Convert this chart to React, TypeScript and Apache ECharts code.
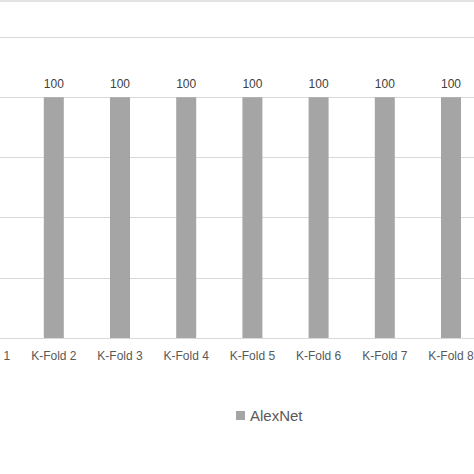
import React, { useEffect, useRef } from "react";
import * as echarts from "echarts";

const categories = ["K-Fold 1", "K-Fold 2", "K-Fold 3", "K-Fold 4", "K-Fold 5", "K-Fold 6", "K-Fold 7", "K-Fold 8"];
const alexnet = [100, 100, 100, 100, 100, 100, 100, 100];
const seriesName = "AlexNet";

const SHIFT = 46;

export default function App() {
  const ref = useRef<HTMLDivElement>(null);
  useEffect(() => {
    if (!ref.current) return;
    const chart = echarts.init(ref.current, null, { renderer: "svg" });
    const font = "'Liberation Sans', 'DejaVu Sans', sans-serif";
    chart.setOption({
      animation: false,
      backgroundColor: "#ffffff",
      textStyle: { fontFamily: font },
      grid: { left: 0.5, width: 529.6, top: 37, height: 301, containLabel: false },
      legend: {
        data: [seriesName],
        left: 231 + SHIFT,
        top: 403,
        icon: "rect",
        itemWidth: 9,
        itemHeight: 9,
        itemGap: 6,
        textStyle: { color: "#595959", fontSize: 15, fontFamily: font },
      },
      graphic: [
        { type: "rect", shape: { x: 0, y: 0, width: 600, height: 2 }, style: { fill: "#e3e3e3" } },
      ],
      xAxis: {
        type: "category",
        data: categories,
        axisLine: { show: true, lineStyle: { color: "#d9d9d9", width: 1 } },
        axisTick: { show: false },
        axisLabel: { color: "#595959", fontSize: 12, margin: 12, fontFamily: font },
      },
      yAxis: {
        type: "value",
        min: 0,
        max: 125,
        interval: 25,
        axisLine: { show: false },
        axisTick: { show: false },
        axisLabel: { show: false },
        splitLine: { lineStyle: { color: "#d9d9d9", width: 1 } },
      },
      series: [
        {
          name: seriesName,
          type: "bar",
          data: alexnet,
          barWidth: 20,
          itemStyle: { color: "#a5a5a5" },
          label: {
            show: true,
            position: "top",
            distance: 7,
            color: "#404040",
            fontSize: 12,
            fontFamily: font,
          },
        },
      ],
    });
    return () => chart.dispose();
  }, []);
  return (
    <div style={{ position: "absolute", left: 0, top: 0, width: 474, height: 474, overflow: "hidden", background: "#fff" }}>
      <div
        ref={ref}
        style={{ position: "absolute", left: -SHIFT, top: 0, width: 600, height: 474 }}
      />
    </div>
  );
}
